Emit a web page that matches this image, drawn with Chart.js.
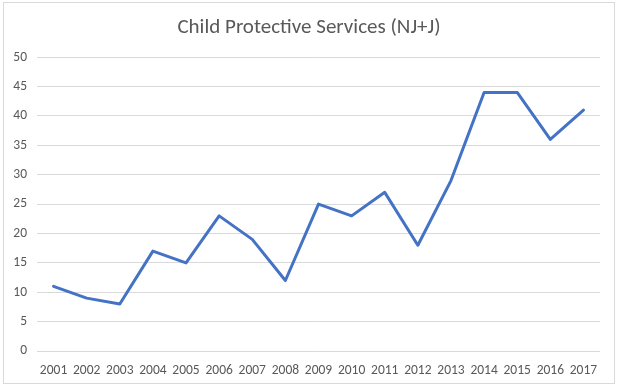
<!DOCTYPE html>
<html>
<head>
<meta charset="utf-8">
<script src="https://cdn.jsdelivr.net/npm/chart.js@4.4.1/dist/chart.umd.min.js"></script>
<style>
html,body{margin:0;padding:0;background:#fff;}
#wrap{position:absolute;left:0;top:0;width:619px;height:388px;}
</style>
</head>
<body>
<div id="wrap"><canvas id="c" width="619" height="388"></canvas></div>
<script>
const categories = ["2001","2002","2003","2004","2005","2006","2007","2008","2009","2010","2011","2012","2013","2014","2015","2016","2017"];
const seriesValues = [11, 9, 8, 17, 15, 23, 19, 12, 25, 23, 27, 18, 29, 44, 44, 36, 41];
const yTicks = [0, 5, 10, 15, 20, 25, 30, 35, 40, 45, 50];
const titleText = "Child Protective Services (NJ+J)";

const FONT = "Carlito, Calibri, 'Open Sans', sans-serif";

const borderPlugin = {
  id: 'outerBorder',
  afterLayout(chart) {
    // center the title on the full frame rather than the padded area
    if (chart.titleBlock) {
      chart.titleBlock.left = 0;
      chart.titleBlock.right = chart.width - 1;
    }
  },
  beforeDraw(chart) {
    const ctx = chart.ctx;
    ctx.save();
    ctx.fillStyle = '#ffffff';
    ctx.fillRect(0, 0, chart.width, chart.height);
    ctx.strokeStyle = '#d9d9d9';
    ctx.lineWidth = 1;
    ctx.strokeRect(3.5, 2.5, 611, 381);
    ctx.restore();
  }
};

new Chart(document.getElementById('c'), {
  type: 'line',
  data: {
    labels: categories,
    datasets: [{
      data: seriesValues,
      borderColor: '#4472C4',
      borderWidth: 3,
      pointRadius: 0,
      pointHoverRadius: 0,
      fill: false,
      tension: 0,
      borderCapStyle: 'round',
      borderJoinStyle: 'round'
    }]
  },
  options: {
    responsive: false,
    animation: false,
    devicePixelRatio: 1,
    layout: { padding: { left: 0, right: 19, top: 0, bottom: 0 } },
    plugins: {
      legend: { display: false },
      tooltip: { enabled: false },
      title: {
        display: true,
        text: titleText,
        color: '#595959',
        font: { family: FONT, size: 21, weight: 'normal' },
        padding: { top: 15, bottom: 17 }
      }
    },
    scales: {
      x: {
        offset: true,
        grid: { display: false },
        border: { display: false },
        ticks: {
          color: '#595959',
          font: { family: FONT, size: 13.5 },
          padding: 4,
          maxRotation: 0,
          autoSkip: false
        },
        afterFit(scale) { scale.height = 37; }
      },
      y: {
        min: 0,
        max: 50,
        afterBuildTicks(scale) { scale.ticks = yTicks.map(v => ({ value: v })); },
        grid: { color: '#d9d9d9', lineWidth: 1, drawTicks: false },
        border: { display: false },
        ticks: {
          color: '#595959',
          font: { family: FONT, size: 13.5 },
          padding: 10
        },
        afterFit(scale) { scale.width = 37; }
      }
    }
  },
  plugins: [borderPlugin]
});
</script>
</body>
</html>
